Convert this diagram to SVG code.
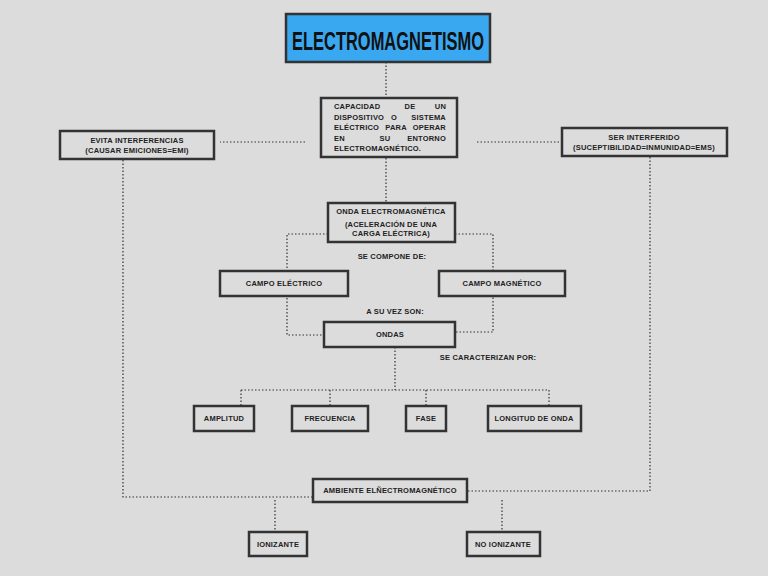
<svg xmlns="http://www.w3.org/2000/svg" width="768" height="576" viewBox="0 0 768 576">
<style>
.b{fill:#dcdcdc;stroke:#333;stroke-width:2.5}
.t{font-family:"Liberation Sans",Arial,sans-serif;font-weight:bold;font-size:7.5px;fill:#222;text-anchor:middle;letter-spacing:0.2px}
.s{text-anchor:start}.e{text-anchor:end}
.c{fill:none;stroke:#333;stroke-width:1.2;stroke-dasharray:1.5 2}
</style>
<rect width="768" height="576" fill="#dcdcdc"/>
<g id="connectors">
<path class="c" d="M386 62V98M386 158V203M305 142H220M477 142H560M328 234H287V335H324M455 234H493V332H455M395 347V390M241 390H549M241 390V406M330 390V406M426 390V406M549 390V406M123 160V497H313M650 157V491H467M275 500V532M502 500V532"/>
</g>
<g id="title"><rect x="286" y="14" width="204" height="48" fill="#3aa8f0" stroke="#333" stroke-width="2.5"/>
<text x="388" y="50" style="font-family:'Liberation Sans',Arial,sans-serif;font-weight:bold;font-size:25px;fill:#111;text-anchor:middle" textLength="192" lengthAdjust="spacingAndGlyphs">ELECTROMAGNETISMO</text></g>
<g id="capacidad"><rect class="b" x="321" y="98" width="136" height="59"/>
<text class="t s" x="334" y="109">CAPACIDAD</text><text class="t" x="410" y="109">DE</text><text class="t e" x="446" y="109">UN</text>
<text class="t s" x="334" y="120">DISPOSITIVO</text><text class="t" x="394" y="120">O</text><text class="t e" x="446" y="120">SISTEMA</text>
<text class="t s" x="334" y="130">ELÉCTRICO</text><text class="t" x="396" y="130">PARA</text><text class="t e" x="446" y="130">OPERAR</text>
<text class="t s" x="334" y="141">EN</text><text class="t" x="385" y="141">SU</text><text class="t e" x="446" y="141">ENTORNO</text>
<text class="t s" x="334" y="151">ELECTROMAGNÉTICO.</text></g>
<g id="evita"><rect class="b" x="60" y="131" width="154" height="28"/>
<text class="t" x="137" y="143">EVITA INTERFERENCIAS</text><text class="t" x="137" y="153">(CAUSAR EMICIONES=EMI)</text></g>
<g id="ser"><rect class="b" x="562" y="128" width="165" height="28"/>
<text class="t" x="644" y="140">SER INTERFERIDO</text><text class="t" x="644" y="150">(SUCEPTIBILIDAD=INMUNIDAD=EMS)</text></g>
<g id="onda"><rect class="b" x="328" y="203" width="127" height="39"/>
<text class="t" x="391" y="214">ONDA ELECTROMAGNÉTICA</text><text class="t" x="391" y="227">(ACELERACIÓN DE UNA</text><text class="t" x="391" y="236">CARGA ELÉCTRICA)</text></g>
<text class="t" x="392" y="259">SE COMPONE DE:</text>
<g id="campoe"><rect class="b" x="220" y="271" width="128" height="25"/><text class="t" x="284" y="286">CAMPO ELÉCTRICO</text></g>
<g id="campom"><rect class="b" x="439" y="271" width="126" height="25"/><text class="t" x="502" y="286">CAMPO MAGNÉTICO</text></g>
<text class="t" x="395" y="314">A SU VEZ SON:</text>
<g id="ondas"><rect class="b" x="324" y="322" width="131" height="25"/><text class="t" x="390" y="337">ONDAS</text></g>
<text class="t" x="488" y="360">SE CARACTERIZAN POR:</text>
<g id="amplitud"><rect class="b" x="194" y="406" width="60" height="25"/><text class="t" x="224" y="421">AMPLITUD</text></g>
<g id="frecuencia"><rect class="b" x="292" y="406" width="76" height="25"/><text class="t" x="330" y="421">FRECUENCIA</text></g>
<g id="fase"><rect class="b" x="406" y="406" width="40" height="25"/><text class="t" x="426" y="421">FASE</text></g>
<g id="longitud"><rect class="b" x="488" y="406" width="93" height="25"/><text class="t" x="534" y="421">LONGITUD DE ONDA</text></g>
<g id="ambiente"><rect class="b" x="313" y="479" width="154" height="23"/><text class="t" x="390" y="493">AMBIENTE ELÑECTROMAGNÉTICO</text></g>
<g id="ionizante"><rect class="b" x="249" y="532" width="58" height="24"/><text class="t" x="278" y="547">IONIZANTE</text></g>
<g id="noionizante"><rect class="b" x="467" y="532" width="73" height="24"/><text class="t" x="503" y="547">NO IONIZANTE</text></g>
</svg>
